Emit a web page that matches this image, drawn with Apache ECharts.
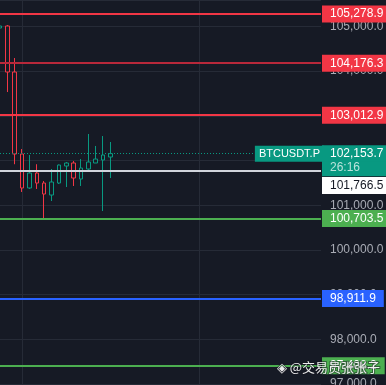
<!DOCTYPE html>
<html><head><meta charset="utf-8">
<style>html,body{margin:0;padding:0;background:#161a25;}#c{width:386px;height:385px;}</style>
<script src="https://cdn.jsdelivr.net/npm/echarts@6/dist/echarts.min.js"></script>
</head><body><div id="c"></div>
<script>
// ---- data ----
const candleIndex = [0,1,2,3,4,5,6,7,8,9,10,11,12,13,14,15];
const opens  = [104964,105009,103980,102146,101385,101720,101496,101228,101496,101877,101944,101586,101810,101944,102011,102078];
const closes = [105009,103980,102146,101385,101720,101496,101250,101519,101899,101944,101608,101832,101966,102033,102123,102153.7];
const lows   = [104940,103532,101917,101296,101363,101363,100710,101094,101474,101407,101430,101430,101788,101944,100870,101608];
const highs  = [105030,105030,104293,102257,102123,101917,101541,101810,101910,101966,101989,102033,102593,102325,102548,102414];
const yTickValues = [97000,98000,99000,100000,101000,102000,103000,104000,105000];
const levelValues = [105278.9,104176.3,103012.9,100703.5,98911.9,97408.2];
const symbolName = 'BTCUSDT.P';
const lastPrice = 102153.7;
const countdown = '26:16';
const markPrice = 101766.5;
const timeGridX = [3,27];
const watermark = '@交易员张张子';

// ---- styles ----
const BG = '#161a25';
const UP = '#089981', DOWN = '#f23645';
const levelLineColors = ['#f23645','#b8283a','#f23645','#4caf50','#2962ff','#4caf50'];
const levelBoxColors  = ['#f23645','#f23645','#f23645','#4caf50','#2962ff','#4caf50'];
const FONT = '"Liberation Sans",Arial,sans-serif';
const FS = 12;
const fmt = v => Number(v).toLocaleString('en-US',{minimumFractionDigits:1,maximumFractionDigits:1});

const candleData = candleIndex.map((x,i)=>[x,opens[i],closes[i],lows[i],highs[i]]);

const hiddenLine = {color:'rgba(0,0,0,0)',width:0};

const levelLines = levelValues.map((v,i)=>({
  yAxis: v,
  lineStyle:{color:levelLineColors[i],width:2,type:'solid'},
  label:{show:true,position:'end',distance:1,formatter:fmt(v),color:'#fff',
    backgroundColor:levelBoxColors[i],padding:[3,8,2,8],fontSize:FS,fontFamily:FONT}
}));

const priceLines = [
  {yAxis:markPrice,lineStyle:{color:'#d1d4dc',width:2,type:'solid'},
   label:{show:true,position:'end',distance:1,formatter:'{w|'+fmt(markPrice)+'}',padding:[29,0,0,0],
     rich:{w:{backgroundColor:'#ffffff',color:'#131722',padding:[3,8,2,8],fontSize:FS,fontFamily:FONT}}}},
  {yAxis:lastPrice,lineStyle:{color:UP,width:1,type:[1,2]},
   label:{show:true,position:'end',distance:1,formatter:fmt(lastPrice),color:'#fff',backgroundColor:UP,
     padding:[3,8,2,8],fontSize:FS,fontFamily:FONT}},
  {yAxis:lastPrice,lineStyle:hiddenLine,
   label:{show:true,position:'end',distance:1,formatter:'{b|'+countdown+'}',padding:[30,0,0,0],
     rich:{b:{backgroundColor:UP,color:'rgba(255,255,255,0.72)',padding:[1,8,2,8],width:60,fontSize:FS,fontFamily:FONT,lineHeight:12}}}},
  {yAxis:lastPrice,lineStyle:hiddenLine,
   label:{show:true,position:'insideEnd',distance:-3,formatter:symbolName,color:'#fff',backgroundColor:UP,
     padding:[3,4,2,4],fontSize:11,fontFamily:FONT}}
];

const chart = echarts.init(document.getElementById('c'),null,{renderer:'canvas'});
chart.setOption({
  backgroundColor:BG,
  animation:false,
  grid:{left:0,right:65,top:0,bottom:1,containLabel:false,outerBoundsMode:'none'},
  xAxis:{type:'value',min:0,max:43.6,show:false,splitLine:{show:false}},
  yAxis:{type:'value',position:'right',min:yTickValues[0],max:105591,interval:1000,
    axisLine:{show:false},axisTick:{show:false},
    splitLine:{show:true,lineStyle:{color:'#262b37',width:1}},
    axisLabel:{showMaxLabel:false,margin:9,color:'#a9acb5',fontSize:FS,fontFamily:FONT,formatter:fmt}},
  series:[
    {type:'line',data:[],silent:true,
     markLine:{silent:true,symbol:['none','none'],z:1,label:{show:false},
       lineStyle:{color:'#262b37',width:1,type:'solid'},
       data:timeGridX.map(x=>({xAxis:x}))}},
    {type:'candlestick',z:3,barWidth:4,data:candleData,
     itemStyle:{color:BG,color0:BG,borderColor:UP,borderColor0:DOWN,borderWidth:1},
     markLine:{silent:true,symbol:['none','none'],z:5,data:levelLines.concat(priceLines)}}
  ],
  graphic:[{type:'text',right:5,bottom:10,z:100,
    style:{text:'◈ '+watermark,fill:'rgba(255,255,255,0.92)',font:'13px "Noto Sans CJK SC",sans-serif',
      stroke:'rgba(20,20,30,0.5)',lineWidth:2}}]
});
</script></body></html>
